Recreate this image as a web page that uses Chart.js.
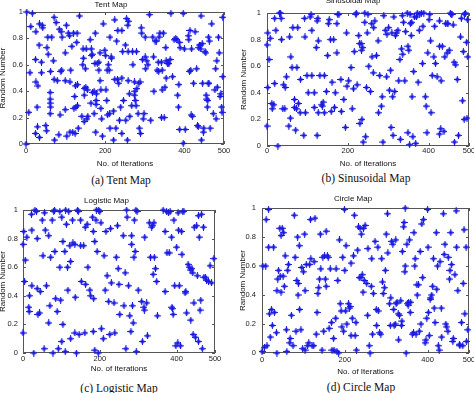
<!DOCTYPE html>
<html>
<head>
<meta charset="utf-8">
<script src="https://cdn.jsdelivr.net/npm/chart.js@4.4.0/dist/chart.umd.min.js"></script>
<style>
html, body { margin: 0; padding: 0; background: #fff; }
#page { position: relative; width: 474px; height: 393px; overflow: hidden; }
#page canvas { position: absolute; }
.cap { position: absolute; font-family: "Liberation Serif", "Times New Roman", serif; font-size: 11.5px; color: #111;
       white-space: nowrap; transform: translate(-50%, -50%); }
</style>
</head>
<body>
<div id="page">
  <canvas id="tent"></canvas>
  <canvas id="sine"></canvas>
  <canvas id="logi"></canvas>
  <canvas id="circ"></canvas>
  <div class="cap" style="left:121px;top:180px">(a) Tent Map</div>
  <div class="cap" style="left:366px;top:178px">(b) Sinusoidal Map</div>
  <div class="cap" style="left:119px;top:388px">(c) Logistic Map</div>
  <div class="cap" style="left:361px;top:387px">(d) Circle Map</div>
</div>
<script>
// ===== dados =====
const xTicks = [0, 200, 400, 500]
const yTicks = [0, 0.2, 0.4, 0.6, 0.8, 1]
const xLabel = 'No. of Iterations'
const yLabel = 'Random Number'

// (a) Tent Map  [iteração, valor]
const tentMap = [
  [2,1.0],[16,0.99],[12,0.89],[10,0.54],[7,0.24],[0,0.0],[24,0.64],[25,0.47],[30,0.44],[28,0.28],[29,0.13],[24,0.08],
  [25,0.85],[34,0.91],[41,0.90],[42,0.88],[33,0.75],[39,0.62],[39,0.54],[34,0.05],[50,0.14],[52,0.10],[53,0.73],[55,0.81],
  [56,0.68],[61,0.39],[61,0.34],[61,0.31],[62,0.28],[62,0.55],[65,0.81],[61,0.23],
  [71,0.96],[69,0.63],[71,0.49],[72,0.03],[76,0.92],[79,0.48],[84,0.87],[89,0.85],[91,0.81],[90,0.56],[88,0.55],[86,0.22],
  [83,0.07],[99,0.69],[99,0.48],[99,0.26],[102,0.90],[103,0.06],[107,0.84],[110,0.82],[111,0.47],[113,0.56],[116,0.74],
  [111,0.09],[118,0.09],[120,0.84],[125,0.44],[123,0.36],[121,0.27],[124,0.08],[126,0.28],[129,0.84],[130,0.45],[128,0.77],
  [135,0.97],[132,0.12],[130,0.29],[141,0.21],[143,0.60],[144,0.72],[145,0.65],[147,0.42],[147,0.37],[147,0.17],[150,0.57],
  [151,0.43],[152,0.72],[154,0.19],[155,0.41],[156,0.21],[162,0.79],[165,0.72],[166,0.67],[167,0.68],[164,0.31],[168,0.39],
  [172,0.40],[172,0.23],[175,0.84],[174,0.61],[176,0.09],[177,0.33],[177,0.30],[178,0.38],[180,0.61],[184,0.62],[184,0.56],
  [187,0.69],[187,0.48],[189,0.41],[189,0.27],[191,0.19],[193,0.06],[195,0.91],
  [199,0.71],[201,0.67],[202,0.41],[204,0.33],[205,0.56],[208,0.60],[206,0.22],[210,0.56],[212,0.81],[211,0.23],[212,0.12],
  [215,0.66],[216,0.65],[221,0.03],[224,0.94],[221,0.25],[224,0.49],[227,0.12],[229,0.78],[231,0.49],[232,0.86],[234,0.46],
  [236,0.18],[239,0.28],[242,0.86],[242,0.08],[242,0.50],[244,0.70],[246,0.33],[251,0.75],[252,0.18],[254,0.95],[256,0.03],
  [257,0.90],[258,0.70],[259,0.93],[258,0.48],[261,0.38],[262,0.21],
  [267,0.29],[269,0.70],[270,0.60],[274,0.47],[274,0.37],[276,0.33],[275,0.40],[279,0.70],[280,0.42],[278,0.29],[283,0.23],
  [285,0.46],[286,0.12],[288,0.47],[289,0.08],[291,0.88],[292,0.84],[294,0.64],[296,0.19],[298,0.23],[301,0.81],[301,0.66],
  [302,0.57],[305,0.63],[308,0.60],[312,0.98],[315,0.18],[320,0.81],[322,0.66],[323,0.40],[326,0.78],
  [329,0.78],[331,0.56],[334,0.62],[335,0.55],[336,0.81],[338,0.84],[342,0.62],[342,0.20],[344,0.41],[344,0.56],[347,0.84],
  [349,0.20],[351,0.43],[353,0.73],[354,0.50],[354,0.63],[357,0.61],[359,0.61],[361,0.61],[364,0.64],[366,0.99],[370,0.51],
  [374,0.79],[378,0.80],[381,0.79],[383,0.37],[385,0.28],[386,0.45],[387,0.77],[388,0.11],[389,0.73],[397,0.99],[397,0.005],
  [400,0.72],[402,0.11],
  [410,0.82],[411,0.79],[413,0.55],[414,0.86],[416,0.56],[417,0.22],[418,0.72],[420,0.21],[423,0.46],[427,0.85],[431,0.57],
  [433,0.14],[435,0.13],[436,0.73],[438,0.75],[440,0.75],[441,0.72],[442,0.97],[443,0.03],[445,0.76],[446,0.46],[448,0.09],
  [449,0.12],[452,0.70],[454,0.69],[455,0.37],[457,0.34],[458,0.28],[459,0.33],[460,0.46],[461,0.81],[462,0.46],[463,0.78],
  [465,0.12],[469,0.91],[473,0.23],[477,0.41],[479,0.57],[480,0.19],[482,0.63],[483,0.43],[486,0.81],[488,0.69],[490,0.36],
  [492,0.38],[494,0.28],[495,0.24],[497,0.96],[497,0.51]
]

// (b) Sinusoidal Map
const sineMap = [
  [0,0.76],[2,0.85],[5,0.65],[2,0.44],[0,0.15],[8,0.81],[12,0.32],[13,0.28],[17,0.31],[19,0.47],[22,0.87],[19,0.96],
  [27,0.0],[31,1.0],[33,1.0],[35,0.96],[36,0.80],[39,0.28],[44,0.28],[41,0.46],[45,0.44],[48,0.52],[54,0.15],[58,0.21],
  [56,0.82],[59,0.67],[62,0.59],[64,0.89],[68,0.29],[68,0.35],[71,0.12],[73,0.28],[74,0.59],[76,0.89],[78,0.32],[82,0.25],
  [83,0.50],[91,0.08],[94,0.82],[95,0.25],[93,0.96],[99,0.53],[102,0.40],[107,0.97],[109,0.99],[111,0.53],[111,0.87],
  [117,0.29],[117,0.40],[122,0.74],[124,0.08],[124,0.94],[126,0.96],[127,0.79],[127,0.25],[131,0.53],[135,0.31],[137,0.30],
  [139,0.33],[142,0.53],[142,0.25],[147,0.41],[150,0.68],[152,0.92],[154,0.95],[157,0.80],[159,0.26],[161,0.48],[165,0.80],
  [167,0.29],[169,0.40],[173,0.92],[173,0.70],[175,0.99],[178,0.99],[183,0.50],[184,0.26],[190,0.35],[194,0.14],[197,0.85],
  [198,0.45],[202,0.49],[208,0.59],[211,0.28],[214,0.43],[216,0.71],[220,0.99],[221,1.0],[223,0.46],[227,0.83],[229,0.77],
  [230,0.17],[233,0.77],[234,0.72],[235,0.20],[237,0.74],[238,0.03],[242,1.0],[242,0.93],[244,0.07],[246,0.44],[248,0.85],
  [250,0.99],[252,0.60],[256,0.41],[259,0.92],[260,0.67],[263,0.55],[264,0.89],[267,0.94],[271,0.68],[275,0.79],[276,0.25],
  [279,0.53],[283,0.30],[285,0.37],[287,0.03],[289,0.98],[293,0.87],[296,0.52],[297,0.84],[301,0.89],[303,0.42],[306,0.57],
  [307,0.14],[309,0.85],[311,0.37],[314,0.97],[312,0.08],[316,0.41],[318,0.83],[320,0.85],[324,0.87],[326,0.49],[329,0.65],
  [330,0.05],[333,0.73],[335,0.98],[336,0.69],[338,0.93],[341,0.49],[343,0.86],[347,1.0],[349,0.75],[349,0.10],[351,0.72],
  [353,0.01],[354,0.99],[355,0.92],[357,0.83],[358,0.93],[359,0.37],[361,0.07],[363,0.56],[365,0.97],[368,0.02],[370,0.97],
  [372,1.0],[374,0.48],[377,0.87],[378,0.99],[382,1.0],[385,0.62],[386,0.90],[388,1.0],[392,0.37],[394,0.30],[396,0.10],
  [398,0.70],[401,0.95],[403,0.99],[405,0.79],[406,0.25],[409,0.53],[413,0.67],[415,0.90],[417,0.62],[421,0.52],[427,0.94],
  [427,0.75],[427,0.09],[430,0.13],[431,0.49],[434,0.75],[438,0.11],[440,0.67],[442,0.92],[446,0.92],[446,0.70],[448,0.92],
  [451,0.72],[454,1.0],[456,0.99],[458,0.99],[461,0.91],[463,0.63],[464,0.03],[467,0.61],[471,0.50],[474,0.08],[479,0.82],
  [481,0.96],[484,0.34],[486,0.71],[488,0.20],[489,0.99],[491,1.0],[494,0.78],[495,0.21],[496,0.95],[497,0.67]
]

// (c) Logistic Map
const logisticMap = [
  [0,0.76],[0,0.14],[2,0.85],[4,0.50],[6,0.65],[10,0.81],[15,0.32],[16,0.29],[17,0.40],[22,0.97],[23,0.86],[23,0.47],
  [28,0.0],[31,1.0],[35,0.99],[37,0.80],[37,0.45],[39,0.27],[43,0.28],[45,0.43],[50,0.93],[52,0.68],[55,0.03],[56,0.98],
  [58,0.86],[61,0.47],[67,0.82],[67,0.21],[70,0.33],[72,0.67],[76,0.93],[78,0.0],[80,0.99],[82,1.0],[83,0.71],[85,0.38],
  [89,0.29],[92,0.03],[96,0.99],[96,0.60],[98,0.37],[101,0.95],[101,0.08],[104,0.78],[104,0.20],[109,0.71],[110,0.01],
  [111,1.0],[113,0.90],[116,0.60],[117,0.44],[119,0.99],[122,0.75],[124,0.64],[124,0.10],[129,0.93],[130,0.77],[135,0.76],
  [135,0.14],[136,0.39],[139,0.0],[142,1.0],[144,0.99],[146,0.13],[150,0.75],[150,0.93],[152,0.50],[158,0.75],[161,0.14],
  [162,0.88],[163,0.48],[167,0.90],[169,0.60],[174,0.44],[176,0.40],[181,0.95],[183,0.85],[183,0.15],[184,0.38],[187,0.78],
  [187,0.02],[190,0.93],[191,1.0],[193,0.71],[196,0.0],[197,1.0],[200,0.99],[203,0.91],[204,0.17],[209,0.10],[211,0.68],
  [214,0.44],[216,0.85],[219,0.54],[223,0.36],[226,0.13],[228,0.87],[230,0.49],[237,0.35],[239,0.14],[243,0.67],[246,0.89],
  [248,0.59],[250,0.48],[252,0.27],[261,0.82],[263,0.33],[266,0.56],[268,0.03],[270,1.0],[271,0.95],[275,0.47],[278,0.26],
  [281,0.15],[283,0.82],[283,0.76],[285,0.33],[287,0.21],[289,0.67],[290,0.93],[292,0.71],[294,1.0],[295,0.01],[297,0.99],
  [300,0.44],[309,0.36],[311,0.08],[315,0.32],[316,0.30],[317,0.81],[322,0.35],[324,0.12],[329,0.91],[332,0.67],[335,0.88],
  [337,0.89],[339,0.55],[341,0.91],[342,0.67],[345,0.59],[348,0.50],[350,0.26],[365,1.0],[370,0.43],[370,0.85],[374,0.99],
  [375,0.70],[379,0.98],[381,0.70],[383,0.99],[387,0.81],[388,0.32],[389,0.31],[391,0.27],[393,0.93],[395,0.47],[398,0.05],
  [400,0.74],[403,0.07],[404,0.98],[405,0.86],[407,0.47],[410,0.05],[413,0.85],[414,0.69],[416,0.99],[419,0.99],[422,0.42],
  [424,0.43],[426,0.28],[430,0.62],[433,0.60],[437,0.58],[437,0.23],[440,0.59],[442,0.56],[443,0.13],[445,0.35],[446,0.88],
  [449,0.11],[452,0.89],[454,0.54],[457,0.08],[457,0.96],[459,0.81],[461,0.30],[463,0.37],[465,0.97],[467,0.03],[470,0.88],
  [471,0.53],[475,0.53],[478,0.51],[483,0.50],[487,0.61],[491,0.49],[497,0.66]
]

// (d) Circle Map
const circleMap = [
  [0,0.01],[2,0.60],[6,0.04],[9,0.60],[10,0.92],[12,0.05],[16,0.99],[16,0.73],[18,0.27],[20,0.11],[23,0.30],[25,0.19],
  [28,0.73],[30,0.28],[35,0.14],[36,0.0],[38,0.51],[36,0.43],[40,0.57],[43,0.86],[44,0.53],[46,0.42],[46,0.81],[49,0.86],
  [51,0.53],[52,0.83],[54,0.46],[56,0.67],[59,0.16],[60,0.01],[62,0.57],[64,0.61],[67,0.07],[68,0.10],[71,0.26],[75,0.05],
  [78,0.95],[80,0.66],[82,0.15],[84,0.50],[86,0.80],[87,0.40],[88,0.48],[90,0.74],[91,0.30],[94,0.16],[96,0.59],[98,0.03],
  [100,0.56],[103,0.82],[104,0.43],[104,0.02],[107,0.61],[110,0.05],[113,0.07],[115,0.61],[117,0.92],[118,0.65],[121,0.05],
  [125,0.05],[126,0.63],[128,0.93],[131,0.13],[133,0.28],[135,0.41],[137,0.45],[139,0.51],[141,0.82],[142,0.58],[145,0.02],
  [147,0.66],[149,0.15],[151,0.67],[153,0.51],[155,0.84],[155,0.46],[158,0.67],[160,0.66],[162,0.17],[165,0.58],[168,0.21],
  [169,0.02],[173,0.10],[174,0.02],[178,0.24],[179,0.58],[181,0.01],[183,0.50],[185,0.0],[187,0.78],[189,0.34],[191,0.29],
  [193,0.18],[195,0.66],[197,0.15],[199,0.99],[200,0.57],[202,0.29],[203,0.74],[205,0.20],[209,0.34],[211,0.31],[213,0.32],
  [215,0.12],[215,0.62],[218,0.24],[221,0.67],[223,0.95],[225,0.12],[227,0.21],[228,0.02],[231,0.71],[233,0.87],[235,0.52],
  [237,0.86],[239,0.52],[240,0.82],[242,0.54],[244,0.42],[245,0.86],[247,0.50],[249,0.88],[253,0.48],[255,0.26],[256,0.72],
  [259,0.05],[261,0.0],[264,0.46],[265,0.65],[267,0.13],[269,0.41],[273,0.77],[276,0.30],[277,0.19],[280,0.73],[281,0.29],
  [284,0.14],[287,0.13],[289,0.65],[291,0.49],[293,0.41],[296,0.45],[298,0.57],[300,0.82],[303,0.96],[304,0.69],[308,0.34],
  [310,0.19],[311,0.38],[313,0.77],[316,0.75],[318,0.30],[319,0.19],[322,0.20],[323,0.78],[324,0.34],[326,0.35],[329,0.27],
  [330,0.09],[332,0.26],[335,0.36],[337,0.19],[338,0.22],[339,0.70],[342,0.87],[343,0.90],[345,0.56],[346,0.60],[348,0.0],
  [346,1.0],[350,0.75],[351,0.34],[353,0.33],[354,0.35],[356,0.78],[358,0.28],[359,0.35],[363,0.13],[366,0.14],[367,0.83],
  [369,0.60],[370,0.65],[372,0.13],[374,0.47],[375,0.40],[378,0.47],[380,0.15],[382,0.70],[384,0.20],[386,0.89],[388,0.52],
  [390,0.92],[394,0.07],[396,0.09],[398,0.24],[400,0.99],[401,0.73],[402,0.28],[404,0.12],[406,0.37],[408,0.38],[410,0.40],
  [412,0.46],[414,0.65],[416,0.31],[418,0.21],[421,0.83],[422,0.44],[424,0.60],[426,0.05],[428,0.02],[430,0.63],[433,0.31],
  [434,0.11],[438,0.96],[440,0.68],[442,0.75],[444,0.20],[446,0.18],[449,0.15],[450,0.66],[453,0.51],[454,0.57],[456,0.83],
  [458,0.61],[461,0.08],[462,0.10],[466,0.54],[469,0.98],[470,0.73],[473,0.43],[477,0.06],[478,0.05],[482,0.21],[485,0.05],
  [486,0.48],[488,0.85],[490,0.27],[493,0.73],[494,0.08],[497,0.16]
]

// ===== marcador (cruz azul estilo MATLAB '+') =====
const marker = document.createElement('canvas')
marker.width = 7
marker.height = 7
const mctx = marker.getContext('2d')
mctx.fillStyle = 'rgba(40,40,235,0.3)'   // halo em losango
mctx.fillRect(2, 1, 3, 5)
mctx.fillRect(1, 2, 5, 3)
mctx.fillStyle = 'rgb(25,25,225)'
mctx.fillRect(3, 0, 1, 7)
mctx.fillRect(0, 3, 7, 1)
mctx.fillRect(2, 3, 3, 1)
mctx.fillRect(3, 2, 1, 3)
mctx.fillStyle = 'rgba(25,25,225,0.6)'
mctx.fillRect(2, 2, 3, 3)

// ===== moldura com ticks para dentro =====
const framePlugin = {
  id: 'frame',
  beforeDatasetsDraw(chart) {
    const { ctx, chartArea: a, scales: { x, y } } = chart
    ctx.save()
    ctx.strokeStyle = '#555'
    ctx.lineWidth = 1
    ctx.strokeRect(Math.round(a.left) + 0.5, Math.round(a.top) + 0.5,
                   Math.round(a.width) - 1, Math.round(a.height) - 1)
    ctx.beginPath()
    xTicks.forEach(v => {
      const px = Math.round(x.getPixelForValue(v)) + 0.5
      ctx.moveTo(px, a.bottom); ctx.lineTo(px, a.bottom - 3)
      ctx.moveTo(px, a.top); ctx.lineTo(px, a.top + 3)
    })
    yTicks.forEach(v => {
      const py = Math.round(y.getPixelForValue(v)) + 0.5
      ctx.moveTo(a.left, py); ctx.lineTo(a.left + 3, py)
      ctx.moveTo(a.right, py); ctx.lineTo(a.right - 3, py)
    })
    ctx.stroke()
    ctx.restore()
  }
}

const sans = 'Liberation Sans, Arial, sans-serif'

// L,T,R,B = caixa do canvas; pl,pt,pr,pb = área do gráfico (coordenadas da página)
function makePanel(id, title, points, g) {
  const cv = document.getElementById(id)
  cv.width = g.R - g.L
  cv.height = g.B - g.T
  cv.style.left = g.L + 'px'
  cv.style.top = g.T + 'px'
  const titleBox = g.pt - g.T
  return new Chart(cv.getContext('2d'), {
    type: 'scatter',
    data: {
      datasets: [{
        data: points.map(p => ({ x: p[0], y: p[1] })),
        pointStyle: marker,
        pointRadius: 3,
        showLine: false,
        clip: false
      }]
    },
    options: {
      responsive: false,
      animation: false,
      devicePixelRatio: 1,
      layout: { padding: { left: 0, top: 0, right: g.R - g.pr, bottom: 0 } },
      plugins: {
        legend: { display: false },
        tooltip: { enabled: false },
        title: {
          display: true, text: title, color: '#111',
          font: { family: sans, size: 8, weight: 'normal' },
          padding: { top: g.tt, bottom: titleBox - 9.6 - g.tt }
        }
      },
      scales: {
        x: {
          type: 'linear', min: 0, max: 500,
          grid: { display: false, drawTicks: false },
          border: { display: false },
          ticks: { font: { family: sans, size: 7.5 }, color: '#222', padding: g.xp, maxRotation: 0, autoSkip: false },
          title: { display: true, text: xLabel, color: '#111', font: { family: sans, size: 8 }, padding: 0 },
          afterBuildTicks: s => { s.ticks = xTicks.map(v => ({ value: v })) },
          afterFit: s => { s.height = g.B - g.pb; s.paddingLeft = 0; s.paddingRight = 0 }
        },
        y: {
          type: 'linear', min: 0, max: 1,
          grid: { display: false, drawTicks: false },
          border: { display: false },
          ticks: { font: { family: sans, size: 7.5 }, color: '#222', padding: g.yp, callback: v => String(v) },
          title: { display: true, text: yLabel, color: '#111', font: { family: sans, size: 8 }, padding: { top: g.yt, bottom: 0 } },
          afterBuildTicks: s => { s.ticks = yTicks.map(v => ({ value: v })) },
          afterFit: s => { s.width = g.pl - g.L; s.paddingTop = 0; s.paddingBottom = 0 }
        }
      }
    },
    plugins: [framePlugin]
  })
}

makePanel('tent', 'Tent Map', tentMap,
  { L: -2, T: 0, R: 237, B: 169, pl: 26, pt: 12, pr: 224, pb: 144, tt: 0, xp: 2.5, yp: 3, yt: 0 })
makePanel('sine', 'Sinusoidal Map', sineMap,
  { L: 237, T: -4, R: 474, B: 169, pl: 267, pt: 13, pr: 469, pb: 146, tt: 0, xp: 0.5, yp: 6, yt: 2 })
makePanel('logi', 'Logistic Map', logisticMap,
  { L: -2, T: 194, R: 237, B: 374, pl: 23, pt: 210, pr: 215, pb: 353, tt: 2, xp: 1.2, yp: 5, yt: 0 })
makePanel('circ', 'Circle Map', circleMap,
  { L: 237, T: 192, R: 474, B: 377, pl: 262, pt: 208, pr: 469, pb: 353, tt: 2.2, xp: 2.5, yp: 6, yt: 1.2 })
</script>
</body>
</html>
